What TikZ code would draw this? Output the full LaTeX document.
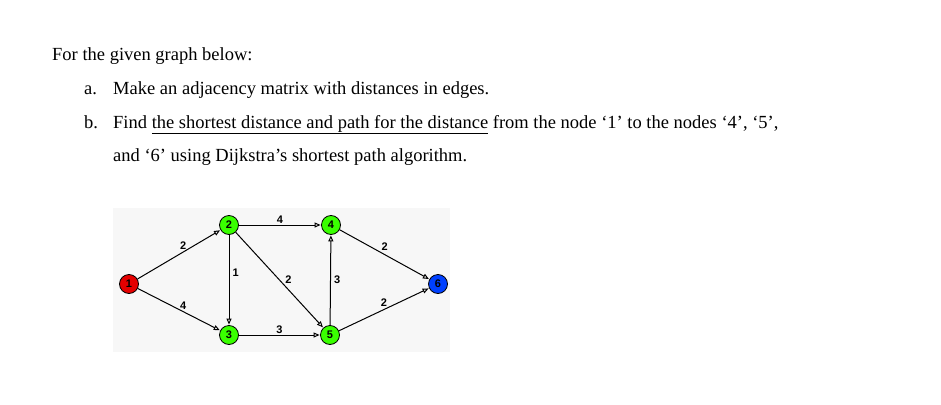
\documentclass[tikz,border=0pt]{standalone}
\usepackage{fontspec}
\setmainfont{Liberation Serif}
\setsansfont{Liberation Sans}
\usetikzlibrary{arrows.meta}
\begin{document}
\begin{tikzpicture}[x=1pt,y=-1pt,
  txt/.style={anchor=base west,inner sep=0pt,font=\fontsize{18.5}{20}\selectfont},
  vert/.style={circle,draw=black,line width=0.8pt,minimum size=19pt,inner sep=0pt,font=\sffamily\bfseries\fontsize{11}{12}\selectfont},
  edge/.style={draw,line width=1pt,-{Triangle[open,length=6pt,width=5pt]},shorten >=0.5pt},
  lab/.style={font=\sffamily\bfseries\fontsize{11}{12}\selectfont,inner sep=1pt}]
\useasboundingbox (0,0) rectangle (941,404);
\node[txt] (t0) at (52,60) {For the given graph below:};
\node[txt] (la) at (84,94) {a.};
\node[txt] (ta) at (113,94) {Make an adjacency matrix with distances in edges.};
\node[txt] (lb) at (84,128) {b.};
\node[txt] (tb) at (113,128) {Find \underline{the shortest distance and path for the distance} from the node ‘1’ to the nodes ‘4’, ‘5’,};
\node[txt] (tc) at (113,161) {and ‘6’ using Dijkstra’s shortest path algorithm.};
\fill[gray!6] (113,208) rectangle (450,352);
\node[vert,fill=red!90!black] (n1) at (129,284) {1};
\node[vert,fill=green!70!lime] (n2) at (229,225) {2};
\node[vert,fill=green!70!lime] (n3) at (229,335) {3};
\node[vert,fill=green!70!lime] (n4) at (331,225) {4};
\node[vert,fill=green!70!lime] (n5) at (330,335) {5};
\node[vert,fill=blue!75!cyan] (n6) at (438,284) {6};
\draw[edge] (n1) -- node[lab,pos=0.55,above=1pt] {2} (n2);
\draw[edge] (n1) -- node[lab,pos=0.55,above=1pt] {4} (n3);
\draw[edge] (n2) -- node[lab,pos=0.5,above=0pt] {4} (n4);
\draw[edge] (n2) -- node[lab,pos=0.42,right=2pt] {1} (n3);
\draw[edge] (n2) -- node[lab,pos=0.55,above right=0pt] {2} (n5);
\draw[edge] (n3) -- node[lab,pos=0.5,above=0pt] {3} (n5);
\draw[edge] (n5) -- node[lab,pos=0.5,right=2pt] {3} (n4);
\draw[edge] (n4) -- node[lab,pos=0.45,above right=0pt] {2} (n6);
\draw[edge] (n5) -- node[lab,pos=0.5,above=2pt] {2} (n6);
\end{tikzpicture}
\end{document}
